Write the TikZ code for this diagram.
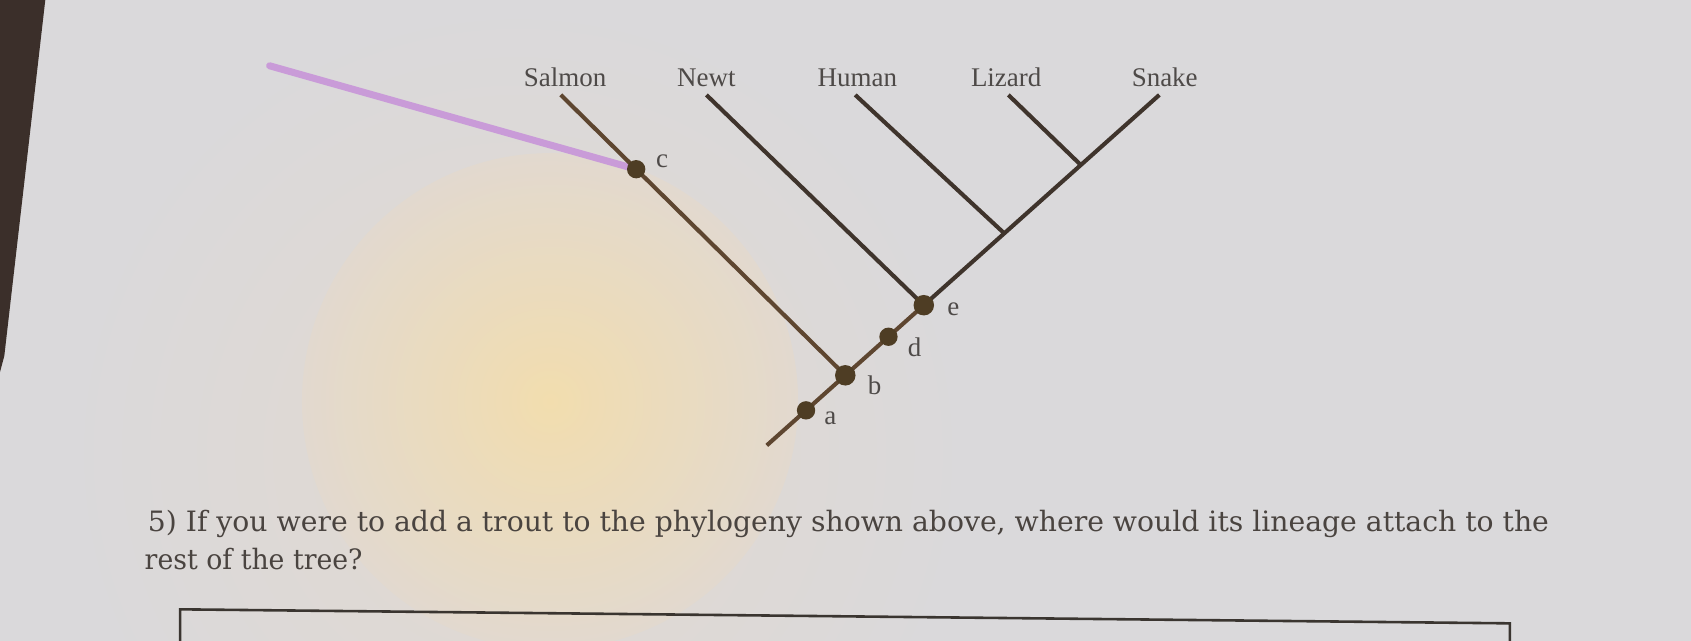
\documentclass[tikz,border=0pt]{standalone}
\usepackage{fontspec}
\usepackage{graphicx}
\setmainfont{Liberation Serif}
\newfontfamily\qfont{DejaVu Serif}
\usetikzlibrary{calc}
\definecolor{bgc}{HTML}{DAD9DB}
\definecolor{glare}{HTML}{F2DDAE}
\definecolor{warm}{HTML}{E2D9CF}
\definecolor{edgec}{HTML}{3B2F2A}
\definecolor{brc}{HTML}{5E4630}
\definecolor{brdark}{HTML}{3F342C}
\definecolor{dotc}{HTML}{4E3D24}
\definecolor{purp}{HTML}{C99BD8}
\definecolor{labc}{HTML}{4E4A48}
\definecolor{qc}{HTML}{4A4440}
\definecolor{boxc}{HTML}{3A3530}
\begin{document}
\begin{tikzpicture}[x=1pt,y=-1pt,
  lab/.style={font=\fontsize{25}{28}\selectfont, text=labc, inner sep=0pt},
  ltr/.style={font=\fontsize{25}{28}\selectfont, text=labc, inner sep=0pt},
  branch/.style={draw=brdark, line width=3.8pt},
  brbrown/.style={draw=brc, line width=3.8pt},
  dot/.style={circle, fill=dotc, inner sep=0pt, minimum size=19pt},
  smalldot/.style={circle, fill=dotc, inner sep=0pt, minimum size=17pt},
  hilite/.style={draw=purp, line width=6.5pt, line cap=round},
  qtext/.style={font=\qfont\fontsize{26}{30}\selectfont, text=qc, inner sep=0pt, anchor=base west},
  boxline/.style={draw=boxc, line width=2.4pt}]
\useasboundingbox (0,0) rectangle (1568,594);
\fill[bgc] (0,0) rectangle (1568,594);
\shade[inner color=warm, outer color=bgc] (480,420) circle (420);
\shade[inner color=glare, outer color=warm] (510,372) circle (230);
\fill[edgec] (0,0) -- (42,0) -- (4,330) -- (0,345) -- cycle;

% backbone reference points
\coordinate (root) at (711,413);
\coordinate (tsn) at (1075,88);
\coordinate (jh) at ($(root)!0.605!(tsn)$);
\coordinate (jl) at ($(root)!0.8!(tsn)$);

% tip labels
\node[lab] (salmon) at (524,72) {Salmon};
\node[lab] (newt) at (655,72) {Newt};
\node[lab] (human) at (795,72) {Human};
\node[lab] (lizard) at (933,72) {Lizard};
\node[lab] (snake) at (1080,72) {Snake};

\coordinate (tsa) at (520,88);
\coordinate (tne) at (655,88);
\coordinate (thu) at (793,88);
\coordinate (tli) at (935,88);

% internal dots
\coordinate (pa) at ($(root)!0.1!(tsn)$);
\coordinate (pb) at ($(root)!0.2!(tsn)$);
\coordinate (pd) at ($(root)!0.31!(tsn)$);
\coordinate (pe) at ($(root)!0.4!(tsn)$);
\coordinate (pc) at ($(tsa)!0.265!(pb)$);

% purple highlight
\coordinate (pstart) at (250,61);
\draw[hilite] (pstart) -- (pc);

% branches
\draw[brbrown] (tsa) -- (pb);
\draw[branch] (tne) -- (pe);
\draw[branch] (thu) -- (jh);
\draw[branch] (tli) -- (jl);
\draw[brbrown] (root) -- (pe);
\draw[branch] (pe) -- (tsn);

\node[smalldot] (a) at (pa) {};
\node[dot] (b) at (pb) {};
\node[smalldot] (c) at (pc) {};
\node[smalldot] (d) at (pd) {};
\node[dot] (e) at (pe) {};

\node[ltr] (la) at (770,388) {a};
\node[ltr] (lb) at (811,357) {b};
\node[ltr] (lc) at (614,150) {c};
\node[ltr] (ld) at (848,322) {d};
\node[ltr] (le) at (884,287) {e};

% question
\node[qtext] (q1) at (137,493) {\resizebox{1299pt}{\height}{5) If you were to add a trout to the phylogeny shown above, where would its lineage attach to the}};
\node[qtext] (q2) at (134,528) {\resizebox{202pt}{\height}{rest of the tree?}};

% answer box
\coordinate (bl) at (167,600);
\coordinate (btl) at (167,565);
\coordinate (btr) at (1400,578);
\coordinate (br) at (1400,600);
\draw[boxline] (bl) -- (btl) -- (btr) -- (br);
\end{tikzpicture}
\end{document}
